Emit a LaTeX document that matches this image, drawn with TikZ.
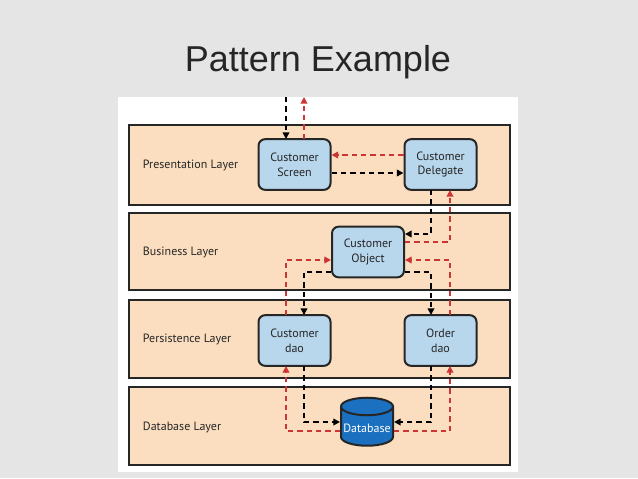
\documentclass[tikz,border=0pt]{standalone}
\usepackage{fontspec}
\setmainfont{PT Sans}
\newfontfamily\titlefont{Liberation Sans}
\usetikzlibrary{arrows.meta,shapes.geometric}
\definecolor{layerfill}{RGB}{251,222,192}
\definecolor{boxfill}{RGB}{184,214,236}
\definecolor{dbfill}{RGB}{28,112,192}
\definecolor{callred}{RGB}{205,52,52}
\tikzset{every picture/.style={line width=0.75pt}}
\tikzset{
  layer/.style={draw=black!85,line width=1.5pt,fill=layerfill},
  comp/.style={draw=black!85,line width=1.5pt,fill=boxfill,rounded corners=5pt,minimum width=54pt,minimum height=38pt,align=center,inner sep=1pt,font=\small,text=black!85},
  call/.style={dash pattern={on 4pt off 3pt},line width=1.2pt,-{Triangle[length=5pt,width=5pt]}},
  back/.style={call,color=callred},
  lbl/.style={anchor=west,font=\small,text=black!85}
}
\begin{document}
\begin{tikzpicture}[x=0.75pt,y=0.75pt,yscale=-1,xscale=1]
\useasboundingbox (0,0) rectangle (638,478);
\fill[black!10] (0,0) rectangle (638,478);
\fill[white] (118,97) rectangle (518,472);
\node[font=\titlefont\fontsize{27}{31}\selectfont,text=black!85] (title) at (318,62) {Pattern Example};

% Layers
\draw[layer] (129,125) rectangle (510,205);
\draw[layer] (129,213) rectangle (510,290);
\draw[layer] (129,300) rectangle (510,378);
\draw[layer] (129,387) rectangle (510,465);
\node[lbl] (lp) at (138,165) {Presentation Layer};
\node[lbl] (lb) at (138,252) {Business Layer};
\node[lbl] (lper) at (138,339) {Persistence Layer};
\node[lbl] (ld) at (138,427) {Database Layer};

% Components
\node[comp] (screen) at (294.5,164.5) {Customer\\Screen};
\node[comp] (delegate) at (440.5,164.5) {Customer\\Delegate};
\node[comp] (object) at (368,252) {Customer\\Object};
\node[comp] (cdao) at (294.5,340.5) {Customer\\dao};
\node[comp] (odao) at (440.5,340.5) {Order\\dao};
\node[cylinder,shape border rotate=90,aspect=0.35,draw=black!85,line width=1.5pt,fill=dbfill,
  minimum width=39pt,minimum height=36pt,text=white,font=\small,inner sep=1pt] (db) at (367,428) {Database};

\coordinate (in) at (286,97);
\coordinate (out) at (304,97);

% Calls
\draw[call] (in) -- (286,139);
\draw[back] (304,139) -- (out);
\draw[back] (delegate.west|-0,155) -- (screen.east|-0,155);
\draw[call] (screen.east|-0,173) -- (delegate.west|-0,173);
\draw[call] (431,190) |- (object.east|-0,234);
\draw[back] (object.east|-0,242) -| (450,190);
\draw[call] (object.west|-0,272) -| (304,315);
\draw[back] (286,315) |- (object.west|-0,260);
\draw[call] (object.east|-0,272) -| (431,315);
\draw[back] (450,315) |- (object.east|-0,260);
\draw[call] (304,366) |- (db.west|-0,422);
\draw[back] (db.west|-0,431) -| (286,366);
\draw[call] (431,366) |- (db.east|-0,422);
\draw[back] (db.east|-0,431) -| (450,366);
\end{tikzpicture}
\end{document}
